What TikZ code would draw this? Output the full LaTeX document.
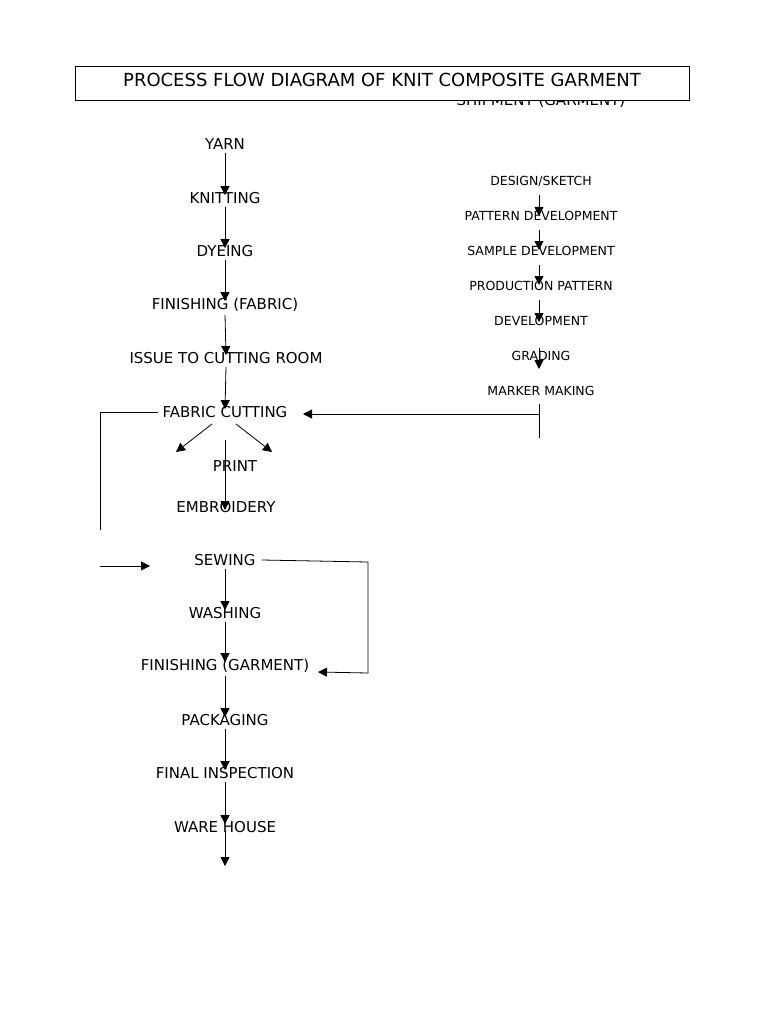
\documentclass[tikz,border=0pt]{standalone}
\usepackage{fontspec}
\setmainfont{DejaVu Sans}
\usetikzlibrary{arrows.meta}
\begin{document}
\begin{tikzpicture}[x=1pt,y=-1pt,
  lt/.style={font=\fontsize{15}{15}\selectfont,inner sep=0pt,anchor=center},
  rt/.style={font=\fontsize{12.5}{12.5}\selectfont,inner sep=0pt,anchor=center},
  ar/.style={-{Triangle[length=9pt,width=9pt]},line width=0.8pt},
  ln/.style={line width=0.8pt}]
\useasboundingbox (0,0) rectangle (768,1024);
\node[lt] at (541,101) {SHIPMENT (GARMENT)};
\draw[fill=white,line width=0.8pt] (75,66) rectangle (689,100);
\node[font=\fontsize{18}{18}\selectfont,inner sep=0pt] (title) at (382,80) {PROCESS FLOW DIAGRAM OF KNIT COMPOSITE GARMENT};
% left column
\node[lt] (yarn) at (225,144) {YARN};
\node[lt] (knit) at (225,198) {KNITTING};
\node[lt] (dye) at (225,251) {DYEING};
\node[lt] (finf) at (225,305) {FINISHING (FABRIC)};
\node[lt] (issue) at (226,358) {ISSUE TO CUTTING ROOM};
\node[lt] (cut) at (225,412) {FABRIC CUTTING};
\node[lt] (print) at (235,466) {PRINT};
\node[lt] (emb) at (226,507) {EMBROIDERY};
\node[lt] (sew) at (225,560) {SEWING};
\node[lt] (wash) at (225,613) {WASHING};
\node[lt] (fing) at (225,666) {FINISHING (GARMENT)};
\node[lt] (pack) at (225,720) {PACKAGING};
\node[lt] (insp) at (225,773) {FINAL INSPECTION};
\node[lt] (ware) at (225,827) {WARE HOUSE};
\coordinate (endw) at (225,866);
\foreach \a/\b in {yarn/knit,knit/dye,dye/finf,finf/issue,issue/cut,sew/wash,wash/fing,fing/pack,pack/insp,insp/ware}
  \draw[ar] (\a.south)+(0,3) -- ([yshift=-3pt]\b.north);
\draw[ar] ([yshift=3pt]ware.south) -- (endw);
% branches from cutting
\coordinate (c1) at (212,424); \coordinate (c1e) at (176,452);
\coordinate (c2) at (236,424); \coordinate (c2e) at (272,452);
\draw[ar] (c1) -- (c1e);
\draw[ar] (c2) -- (c2e);
\draw[ar] (225,440) -- (225,510);
% left loop
\draw[ln] (cut.west) ++(-4,0) -- (100,412) -- (100,530);
\coordinate (lf) at (100,566);
\draw[ar] (lf) -- (150,566);
% right loop sewing -> finishing garment
\coordinate (r1) at (368,562); \coordinate (r2) at (368,673);
\draw[ln] ([xshift=6pt]sew.east) -- (r1) -- (r2);
\draw[ar] (r2) -- (318,672);
% right column
\node[rt] (d1) at (541,181) {DESIGN/SKETCH};
\node[rt] (d2) at (541,216) {PATTERN DEVELOPMENT};
\node[rt] (d3) at (541,251) {SAMPLE DEVELOPMENT};
\node[rt] (d4) at (541,286) {PRODUCTION PATTERN};
\node[rt] (d5) at (541,321) {DEVELOPMENT};
\node[rt] (d6) at (541,356) {GRADING};
\node[rt] (d7) at (541,391) {MARKER MAKING};
\draw[ar] (539,195) -- (539,216);
\draw[ar] (539,230) -- (539,250);
\draw[ar] (539,265) -- (539,285);
\draw[ar] (539,300) -- (539,322);
\draw[ar] (539,348) -- (539,369);
\coordinate (m1) at (539,404); \coordinate (m2) at (539,438); \coordinate (m3) at (539,414);
\draw[ln] (m1) -- (m2);
\draw[ar] (m3) -- (303,414);
\end{tikzpicture}
\end{document}
